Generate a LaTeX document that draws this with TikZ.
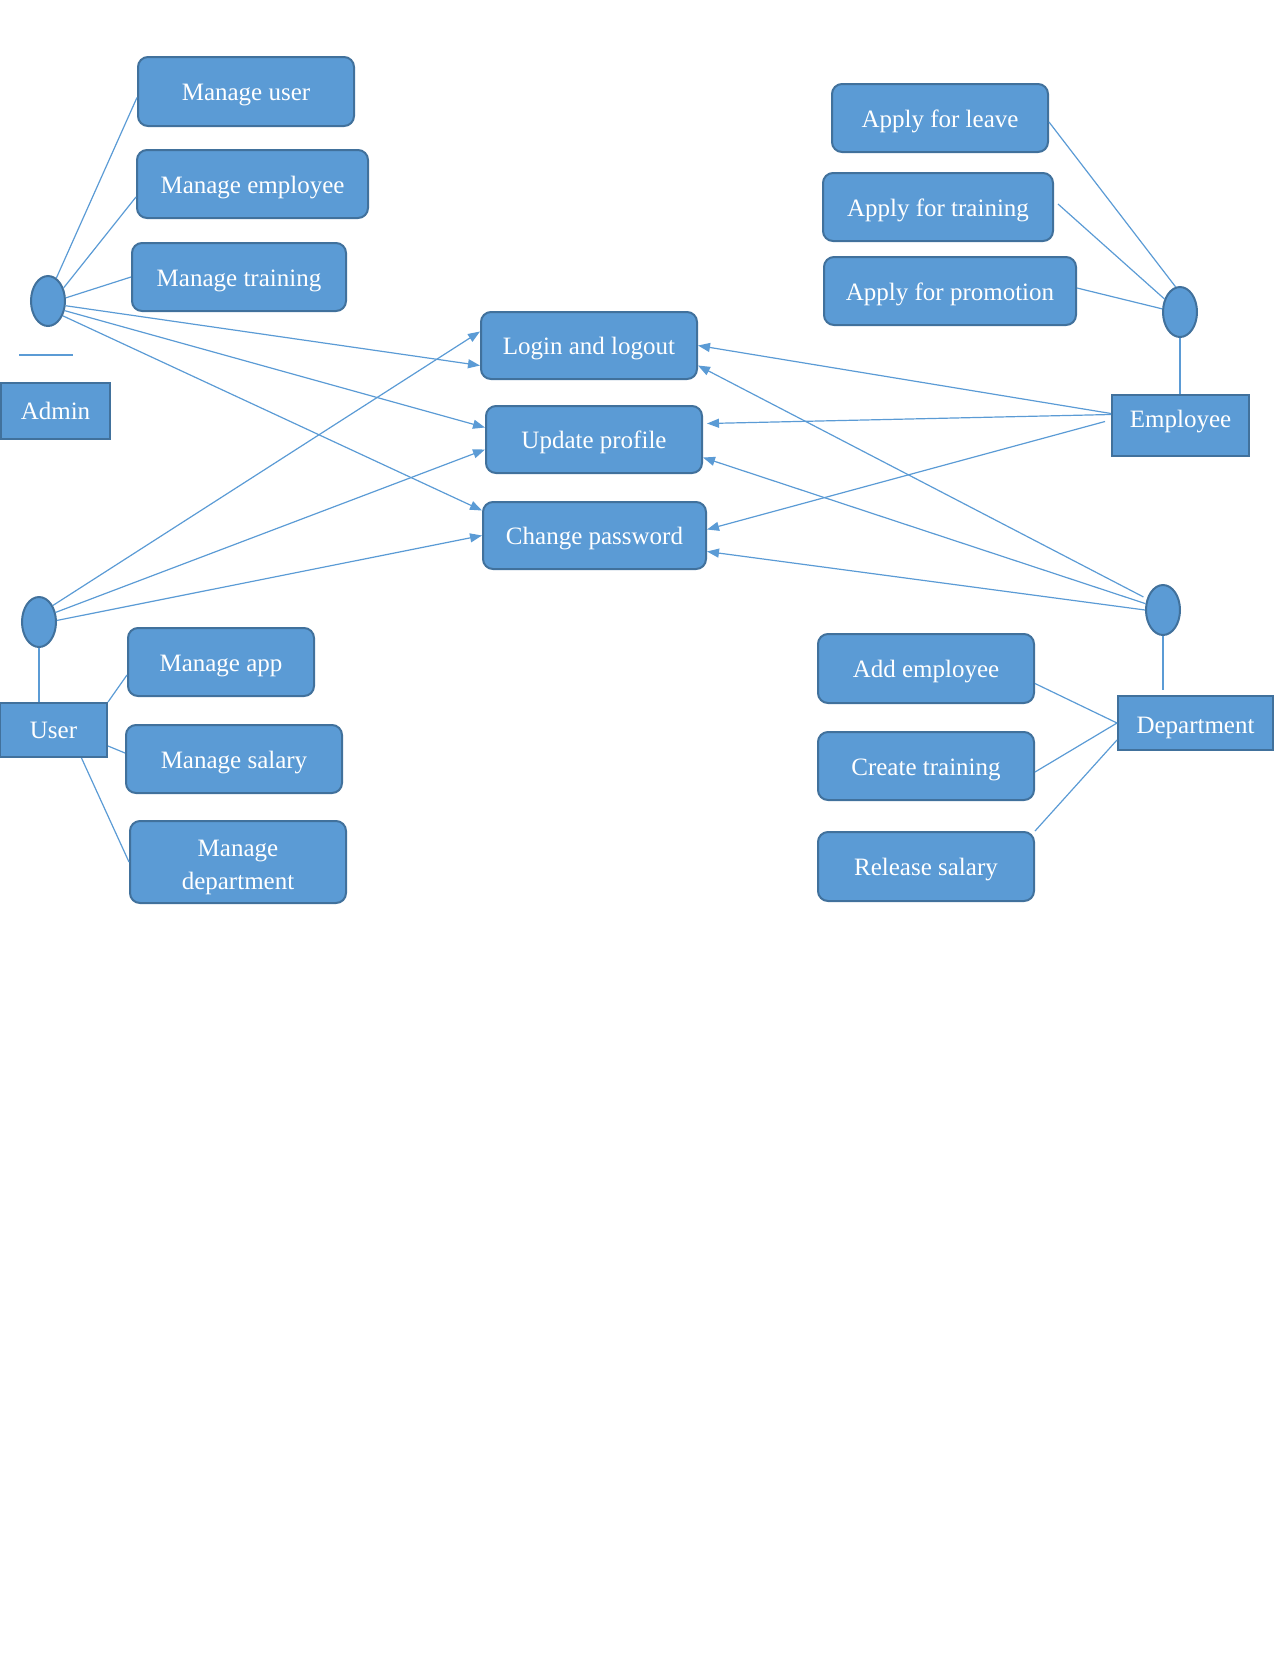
\documentclass[tikz,border=0pt]{standalone}
\usepackage{fontspec}
\setmainfont{Liberation Serif}
\usetikzlibrary{arrows.meta}
\usetikzlibrary{shapes.geometric}
\definecolor{caseblue}{HTML}{5B9BD5}
\definecolor{caseedge}{HTML}{41719C}
\tikzset{
  casebox/.style={draw=caseedge,fill=caseblue,line width=1pt,rounded corners=5pt,
    text=white,font=\fontsize{12.5}{16.5}\selectfont,inner sep=0pt,align=center},
  usecase/.style={casebox,text height=10.5pt,text depth=1.5pt},
  actorbox/.style={draw=caseedge,fill=caseblue,line width=1pt,
    text=white,font=\fontsize{12.5}{16.5}\selectfont,inner sep=0pt,
    text height=10pt,text depth=1.5pt},
  joint/.style={ellipse,draw=caseedge,fill=caseblue,line width=1pt,
    minimum width=17pt,minimum height=25pt,inner sep=0pt},
  link/.style={draw=caseblue,line width=0.6pt},
  uses/.style={link,-{Triangle[length=6pt,width=4.5pt]}}
}

\begin{document}
\begin{tikzpicture}[x=0.5pt,y=-0.5pt]
\useasboundingbox (0,0) rectangle (1280,1656);

\node[usecase,minimum width=108pt,minimum height=34.5pt] (muser) at (246,91.5) {Manage user};
\node[usecase,minimum width=115.5pt,minimum height=34pt] (memp) at (252.5,184) {Manage employee};
\node[usecase,minimum width=107pt,minimum height=34pt] (mtrain) at (239,277) {Manage training};

\node[usecase,minimum width=108pt,minimum height=33.5pt] (login) at (589,345.5) {Login and logout};
\node[usecase,minimum width=108pt,minimum height=33.5pt] (update) at (594,439.5) {Update profile};
\node[usecase,minimum width=111.5pt,minimum height=33.5pt] (chpw) at (594.5,535.5) {Change password};

\node[usecase,minimum width=108pt,minimum height=34pt] (leave) at (940,118) {Apply for leave};
\node[usecase,minimum width=115pt,minimum height=34pt] (atrain) at (938,207) {Apply for training};
\node[usecase,minimum width=126pt,minimum height=34pt] (promo) at (950,291) {Apply for promotion};

\node[usecase,minimum width=93pt,minimum height=34pt] (mapp) at (221,662) {Manage app};
\node[usecase,minimum width=108pt,minimum height=34pt] (msal) at (234,759) {Manage salary};
\node[casebox,minimum width=108pt,minimum height=41pt] (mdept) at (238,862) {\rule{0pt}{13.5pt}Manage\\department};

\node[usecase,minimum width=108pt,minimum height=34.5pt] (addemp) at (926,668.5) {Add employee};
\node[usecase,minimum width=108pt,minimum height=34pt] (ctrain) at (926,766) {Create training};
\node[usecase,minimum width=108pt,minimum height=34.5pt] (relsal) at (926,866.5) {Release salary};

\node[actorbox,minimum width=54.5pt,minimum height=28pt] (admin) at (55.5,411) {Admin};
\node[actorbox,minimum width=53.5pt,minimum height=27pt] (user) at (53.5,730) {User};
\node[actorbox,minimum width=68.5pt,minimum height=30.5pt,text height=9pt,text depth=7.5pt] (employee) at (1180.5,425.5) {Employee};
\node[actorbox,minimum width=77.5pt,minimum height=27pt,text height=11pt,text depth=1pt] (dept) at (1195.5,723) {Department};

\node[joint] (adminE) at (48,301) {};
\node[joint] (userE) at (39,622) {};
\node[joint] (empE) at (1180,312) {};
\node[joint] (deptE) at (1163,610) {};

\draw[link] (19,355) -- (73,355);

\draw[link] (adminE.70) -- ([yshift=-3pt]muser.west);
\draw[link] (adminE.40) -- ([yshift=-6.5pt]memp.west);
\draw[link] (adminE.10) -- (mtrain.west);
\draw[uses] (adminE.-15) -- ([yshift=-10pt]login.west);
\draw[uses] (adminE.-30) -- ([yshift=6pt]update.west);
\draw[uses] (adminE.-45) -- ([yshift=12.5pt]chpw.west);

\draw[link] (userE.south) -- (userE.south |- user.north);
\draw[uses] (userE.50) -- ([yshift=7pt]login.west);
\draw[uses] (userE.30) -- ([yshift=-5pt]update.west);
\draw[uses] (userE.5) -- (chpw.west);
\draw[link] (user.north east) -- ([yshift=-6.5pt]mapp.west);
\draw[link] ([yshift=-8pt]user.east) -- ([yshift=3pt]msal.west);
\draw[link] ([xshift=14pt]user.south) -- (mdept.west);

\draw[link] ([yshift=-2pt]leave.east) -- (empE.100);
\draw[link] ([xshift=2pt,yshift=1.5pt]atrain.east) -- (empE.140);
\draw[link] ([yshift=1.5pt]promo.east) -- (empE.170);
\draw[link] (empE.south) -- (empE.south |- employee.north);
\draw[uses] ([yshift=6pt]employee.west) -- (login.east);
\draw[uses] ([yshift=5.5pt]employee.west) -- ([xshift=2pt,yshift=8pt]update.east);
\draw[uses] ([xshift=-3pt,yshift=2pt]employee.west) -- ([yshift=3pt]chpw.east);

\draw[link] (deptE.south) -- ([yshift=2.5pt]deptE.south |- dept.north);
\draw[uses] ([xshift=-2pt]deptE.140) -- ([yshift=-10pt]login.east);
\draw[uses] (deptE.160) -- ([yshift=-9pt]update.east);
\draw[uses] (deptE.west) -- ([yshift=-8pt]chpw.east);
\draw[link] ([yshift=-7.5pt]addemp.east) -- (dept.west);
\draw[link] ([yshift=-3pt]ctrain.east) -- (dept.west);
\draw[link] (relsal.north east) -- ([yshift=-8.5pt]dept.west);
\end{tikzpicture}
\end{document}
